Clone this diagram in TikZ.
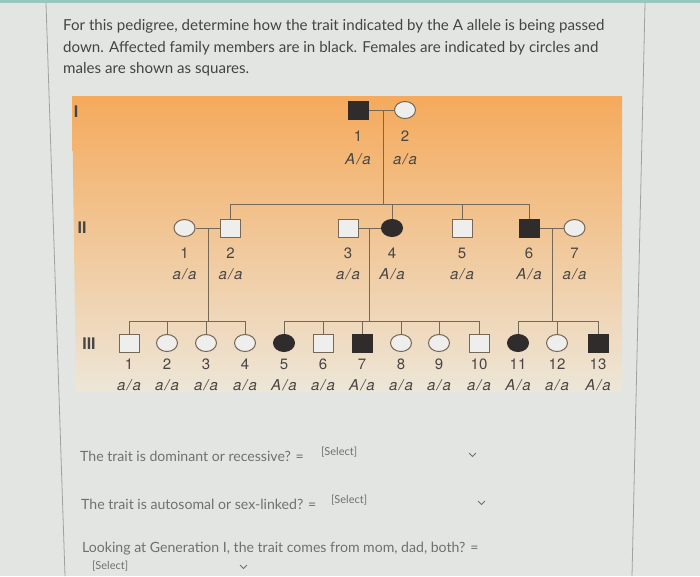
\documentclass[tikz,border=0pt]{standalone}
\usepackage{fontspec}
\setmainfont{Lato}
\newfontfamily\pedfont{TeX Gyre Heros}
\usetikzlibrary{shapes.geometric, positioning}
\definecolor{page}{RGB}{227,229,226}
\definecolor{pedline}{RGB}{118,104,86}
\definecolor{symfill}{RGB}{238,238,236}
\definecolor{affected}{RGB}{48,44,44}
\definecolor{labtext}{RGB}{72,70,68}
\definecolor{qtext}{RGB}{68,68,68}
\definecolor{qsoft}{RGB}{112,112,112}
\definecolor{boxtop}{RGB}{245,170,92}
\definecolor{boxmid}{RGB}{242,206,160}
\definecolor{boxbot}{RGB}{237,230,216}
\definecolor{tealbar}{RGB}{150,200,192}
\definecolor{rulecol}{RGB}{160,162,160}
\newcommand{\geno}[2]{#1\kern1.5pt/\kern1.5pt#2}

\tikzset{
  male/.style={rectangle, draw=pedline, fill=symfill, line width=1pt, minimum width=20pt, minimum height=18pt, inner sep=0pt},
  female/.style={ellipse, draw=pedline, fill=symfill, line width=1pt, minimum width=21pt, minimum height=17pt, inner sep=0pt},
  aff/.style={fill=affected, draw=affected},
  num/.style={font=\pedfont\fontsize{15}{15}\selectfont, text=labtext, inner sep=0pt, text height=11pt, text depth=0pt},
  gt/.style={font=\pedfont\itshape\fontsize{15}{15}\selectfont, text=labtext, inner sep=0pt, text height=11pt, text depth=3pt},
  gen/.style={font=\pedfont\bfseries\fontsize{16}{16}\selectfont, text=labtext, inner sep=0pt},
  g1/.style 2 args={label={[num, yshift=-26pt]center:#1}, label={[gt, yshift=-50pt]center:#2}},
  g2/.style 2 args={label={[num, yshift=-25pt]center:#1}, label={[gt, yshift=-47pt]center:#2}},
  g3/.style 2 args={label={[num, yshift=-21pt]center:#1}, label={[gt, yshift=-43pt]center:#2}},
  ped/.style={draw=pedline, line width=1pt},
  qline/.style={font=\fontsize{15.1}{15.1}\selectfont, text=qtext, anchor=base west, inner sep=0pt},
  qask/.style={font=\fontsize{14.1}{14.1}\selectfont, text=qsoft, anchor=base west, inner sep=0pt},
  qsel/.style={font=\fontsize{11}{11}\selectfont, text=qsoft, anchor=west, inner sep=0pt}
}

\begin{document}
\begin{tikzpicture}[x=1pt, y=-1pt]
  \useasboundingbox (0,0) rectangle (700,576);
  \fill[page] (0,0) rectangle (700,576);
  \fill[tealbar] (0,0) rectangle (700,3);
  \draw[rulecol, line width=0.8pt] (46,3) -- (65,576);
  \draw[rulecol, line width=0.8pt] (645,3) -- (632,576);

  % question text
  \node[qline] (q1) at (63,30) {For this pedigree, determine how the trait indicated by the A allele is being passed};
  \node[qline] (q2) at (63,52) {down. Affected family members are in black. Females are indicated by circles and};
  \node[qline] (q3) at (63,73) {males are shown as squares.};

  % pedigree panel
  \shade[top color=boxtop, middle color=boxmid, bottom color=boxbot] (72,96) -- (622,96) -- (622,392) -- (76,392) -- cycle;
  \node[gen] (gI) at (76,112) {I};
  \node[gen] (gII) at (82,228) {II};
  \node[gen] (gIII) at (89,344) {III};

  % generation I
  \node[male, aff, g1={1}{\geno{A}{a}}] (i1) at (358,110) {};
  \node[female, g1={2}{\geno{a}{a}}] (i2) at (405,110) {};

  % generation II
  \node[female, g2={1}{\geno{a}{a}}] (ii1) at (184.5,228) {};
  \node[male, g2={2}{\geno{a}{a}}] (ii2) at (230.5,228) {};
  \node[male, g2={3}{\geno{a}{a}}] (ii3) at (348,228) {};
  \node[female, aff, g2={4}{\geno{A}{a}}] (ii4) at (392,228) {};
  \node[male, g2={5}{\geno{a}{a}}] (ii5) at (462,228) {};
  \node[male, aff, g2={6}{\geno{A}{a}}] (ii6) at (529,228) {};
  \node[female, g2={7}{\geno{a}{a}}] (ii7) at (574.5,228) {};

  % generation III
  \node[male, g3={1}{\geno{a}{a}}] (iii1) at (129,343) {};
  \node[female, g3={2}{\geno{a}{a}}] (iii2) at (167,343) {};
  \node[female, g3={3}{\geno{a}{a}}] (iii3) at (206,343) {};
  \node[female, g3={4}{\geno{a}{a}}] (iii4) at (245,343) {};
  \node[female, aff, g3={5}{\geno{A}{a}}] (iii5) at (284,343) {};
  \node[male, g3={6}{\geno{a}{a}}] (iii6) at (323,343) {};
  \node[male, aff, g3={7}{\geno{A}{a}}] (iii7) at (362,343) {};
  \node[female, g3={8}{\geno{a}{a}}] (iii8) at (401,343) {};
  \node[female, g3={9}{\geno{a}{a}}] (iii9) at (439,343) {};
  \node[male, g3={10}{\geno{a}{a}}] (iii10) at (479,343) {};
  \node[female, aff, g3={11}{\geno{A}{a}}] (iii11) at (518,343) {};
  \node[female, g3={12}{\geno{a}{a}}] (iii12) at (557,343) {};
  \node[male, aff, g3={13}{\geno{A}{a}}] (iii13) at (598,343) {};

  % matings and sibships
  \coordinate (c1) at (383,110);
  \coordinate (s1) at (383,204);
  \coordinate (c2) at (208,228);
  \coordinate (s2) at (208,321);
  \coordinate (c3) at (369,228);
  \coordinate (s3) at (369,321);
  \coordinate (c4) at (552,228);
  \coordinate (s4) at (552,321);

  \draw[ped]
  (i1) -- (i2)
  (c1) -- (s1)
  (ii2 |- s1) -- (ii6 |- s1)
  (ii2 |- s1) -- (ii2)
  (ii4 |- s1) -- (ii4)
  (ii5 |- s1) -- (ii5)
  (ii6 |- s1) -- (ii6);

  \draw[ped]
  (ii1) -- (ii2)
  (ii3) -- (ii4)
  (ii6) -- (ii7)
  (c2) -- (s2)
  (c3) -- (s3)
  (c4) -- (s4);

  \draw[ped] (iii1 |- s2) -- (iii4 |- s2);
  \draw[ped] (iii5 |- s3) -- (iii10 |- s3);
  \draw[ped] (iii11 |- s4) -- (iii13 |- s4);
  \foreach \k in {1,2,3,4}
    \draw[ped] (iii\k |- s2) -- (iii\k);
  \foreach \k in {5,6,7,8,9,10}
    \draw[ped] (iii\k |- s3) -- (iii\k);
  \foreach \k in {11,12,13}
    \draw[ped] (iii\k |- s4) -- (iii\k);

  % questions
  \node[qask] (a1) at (80,461) {The trait is dominant or recessive? =};
  \node[qsel] (sel1) at (321,452) {[Select]};
  \draw[qsoft, line width=0.9pt] (469,453) -- (472.5,456.5) -- (476,453);

  \node[qask] (a2) at (81,509) {The trait is autosomal or sex-linked? =};
  \node[qsel] (sel2) at (331,500) {[Select]};
  \draw[qsoft, line width=0.9pt] (478,501) -- (481.5,504.5) -- (485,501);

  \node[qask] (a3) at (82,552) {Looking at Generation I, the trait comes from mom, dad, both? =};
  \node[qsel] (sel3) at (92,566) {[Select]};
  \draw[qsoft, line width=0.9pt] (240,565) -- (243.5,568.5) -- (247,565);
\end{tikzpicture}
\end{document}
